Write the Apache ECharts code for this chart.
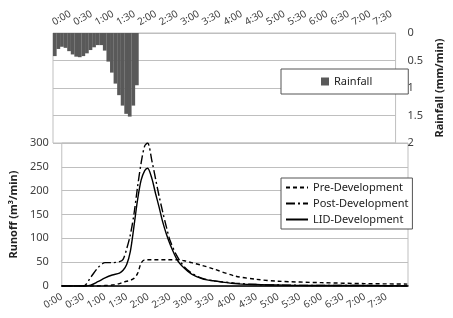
<!DOCTYPE html>
<html>
<head>
<meta charset="utf-8">
<script src="https://cdn.jsdelivr.net/npm/echarts@6/dist/echarts.min.js"></script>
<style>
  html, body { margin: 0; padding: 0; background: #fff; }
  #chart { width: 453px; height: 318px; }
</style>
</head>
<body>
<div id="chart"></div>
<script>
// tick labels (every 30 min)
const tickLabels = ['0:00', '0:30', '1:00', '1:30', '2:00', '2:30', '3:00', '3:30',
  '4:00', '4:30', '5:00', '5:30', '6:00', '6:30', '7:00', '7:30'];

// rainfall, 5 min steps (mm/min)
const rainTimes = [2.5, 7.5, 12.5, 17.5, 22.5, 27.5, 32.5, 37.5, 42.5, 47.5, 52.5, 57.5,
  62.5, 67.5, 72.5, 77.5, 82.5, 87.5, 92.5, 97.5, 102.5, 107.5, 112.5, 117.5];
const rainfall = [0.42, 0.29, 0.25, 0.27, 0.33, 0.39, 0.43, 0.44, 0.42, 0.37, 0.31, 0.26,
  0.22, 0.22, 0.32, 0.52, 0.72, 0.92, 1.13, 1.32, 1.47, 1.52, 1.32, 0.95];

// runoff (m3/min)
const runoffTimes = [0, 30, 40, 50, 60, 70, 80, 85, 90, 95, 100, 105, 110, 115, 119, 125,
  130, 135, 140, 145, 150, 160, 170, 180, 195, 210, 240, 270, 300, 360, 420, 479];
const preDev = [0, 0, 0, 0, 1, 2, 5, 8, 10, 12, 16, 26, 48, 55, 55, 55,
  55, 55, 55, 55, 55, 55, 53, 49, 43, 36, 21, 14, 10, 7, 5, 4];
const postDev = [0, 0, 18, 38, 49, 49, 51, 56, 78, 107, 150, 207, 258, 294, 300, 262,
  225, 188, 155, 124, 96, 62, 40, 27, 16, 11, 6, 3, 2, 1, 1, 0];
const lidDev = [0, 0, 2, 9, 17, 23, 27, 33, 45, 72, 124, 180, 222, 242, 247, 225,
  194, 165, 134, 109, 88, 55, 37, 25, 15, 11, 5, 3, 2, 1, 1, 0];

function pair(ts, vs) {
  return ts.map(function (t, i) { return [t, vs[i]]; });
}

const font = 'Noto Sans';
const gridColor = '#bfbfbf';
const labelColor = '#404040';

const chart = echarts.init(document.getElementById('chart'));

function timeAxis(idx, pos) {
  return {
    gridIndex: idx,
    type: 'value',
    position: pos,
    min: 0,
    max: 480,
    interval: 30,
    axisLine: pos === 'bottom'
      ? { show: true, lineStyle: { color: '#000', width: 1.5 } }
      : { show: false },
    axisTick: { show: false },
    splitLine: { show: false },
    axisLabel: {
      rotate: 30,
      margin: 10,
      fontSize: 10,
      fontFamily: font,
      color: labelColor,
      showMaxLabel: false,
      formatter: function (v) { return tickLabels[v / 30] || ''; }
    }
  };
}

chart.setOption({
  animation: false,
  backgroundColor: '#fff',
  grid: [
    { left: 53, right: 45, top: 33, height: 110, show: true, borderColor: gridColor, borderWidth: 1 },
    { left: 53, right: 45, top: 143, bottom: 32, show: true, borderColor: gridColor, borderWidth: 1 }
  ],
  xAxis: [timeAxis(0, 'top'), timeAxis(1, 'bottom')],
  yAxis: [
    {
      gridIndex: 0,
      type: 'value',
      position: 'right',
      inverse: true,
      min: 0,
      max: 2,
      interval: 0.5,
      name: 'Rainfall (mm/min)',
      nameLocation: 'middle',
      nameGap: 32,
      nameTextStyle: { fontFamily: font, fontWeight: 'bold', fontSize: 11, color: '#222' },
      axisLine: { show: false },
      axisTick: { show: false },
      axisLabel: { margin: 12, fontSize: 11, fontFamily: font, color: labelColor },
      splitLine: { lineStyle: { color: gridColor } }
    },
    {
      gridIndex: 1,
      type: 'value',
      position: 'left',
      min: 0,
      max: 300,
      interval: 50,
      name: 'Runoff (m³/min)',
      nameLocation: 'middle',
      nameGap: 36,
      nameTextStyle: { fontFamily: font, fontWeight: 'bold', fontSize: 11, color: '#222' },
      axisLine: { show: false },
      axisTick: { show: false },
      axisLabel: { margin: 13, fontSize: 11, fontFamily: font, color: labelColor },
      splitLine: { lineStyle: { color: gridColor } }
    }
  ],
  legend: [
    {
      data: ['Rainfall'],
      left: 281,
      top: 69,
      icon: 'rect',
      itemWidth: 8,
      itemHeight: 8,
      itemGap: 3,
      padding: [7, 36, 7, 40],
      backgroundColor: '#fff',
      borderColor: '#555',
      borderWidth: 1,
      borderRadius: 0,
      textStyle: { fontFamily: font, fontSize: 11, color: '#222' }
    },
    {
      data: ['Pre-Development', 'Post-Development', 'LID-Development'],
      orient: 'vertical',
      left: 281,
      top: 178,
      itemWidth: 22,
      itemHeight: 12,
      itemGap: 5,
      padding: [4, 4, 4, 4],
      backgroundColor: '#fff',
      borderColor: '#555',
      borderWidth: 1,
      borderRadius: 0,
      itemStyle: { opacity: 0 },
      textStyle: { fontFamily: font, fontSize: 11, color: '#222' }
    }
  ],
  series: [
    {
      name: 'Rainfall',
      type: 'bar',
      xAxisIndex: 0,
      yAxisIndex: 0,
      barWidth: 3.7,
      itemStyle: { color: '#595959' },
      data: pair(rainTimes, rainfall)
    },
    {
      name: 'Pre-Development',
      type: 'line',
      xAxisIndex: 1,
      yAxisIndex: 1,
      smooth: 0.3,
      symbol: 'none',
      color: '#000',
      lineStyle: { color: '#000', width: 1.4, type: [4, 3] },
      data: pair(runoffTimes, preDev)
    },
    {
      name: 'Post-Development',
      type: 'line',
      xAxisIndex: 1,
      yAxisIndex: 1,
      smooth: 0.3,
      symbol: 'none',
      color: '#000',
      lineStyle: { color: '#000', width: 1.4, type: [9, 3, 2, 3] },
      data: pair(runoffTimes, postDev)
    },
    {
      name: 'LID-Development',
      type: 'line',
      xAxisIndex: 1,
      yAxisIndex: 1,
      smooth: 0.3,
      symbol: 'none',
      color: '#000',
      lineStyle: { color: '#000', width: 1.4 },
      data: pair(runoffTimes, lidDev)
    }
  ]
});
</script>
</body>
</html>
